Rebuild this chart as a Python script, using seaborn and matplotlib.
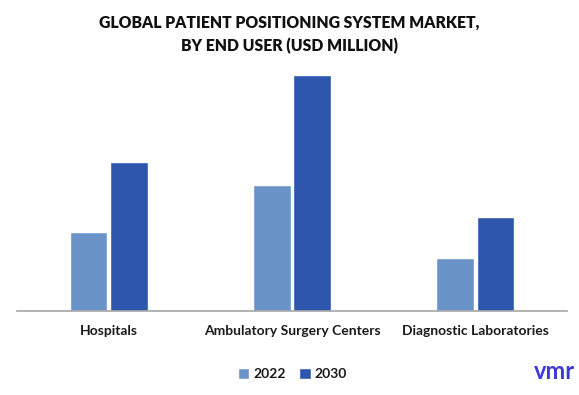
import pandas as pd
import matplotlib.pyplot as plt
import seaborn as sns

sns.set_theme(style="white")
plt.rcParams['font.family'] = ['Lato', 'DejaVu Sans']

# data (relative bar heights, USD million)
end_users = ['Hospitals', 'Ambulatory Surgery Centers', 'Diagnostic Laboratories']
years = ['2022', '2030']
values_2022 = [395, 630, 265]
values_2030 = [745, 1180, 470]
colors = ['#6a93c8', '#2e56ad']


def plot_market():
    df = pd.DataFrame({
        'End User': end_users * 2,
        'Year': [years[0]] * 3 + [years[1]] * 3,
        'Value': values_2022 + values_2030,
    })

    fig = plt.figure(figsize=(5.79, 3.95), dpi=100)
    ax = fig.add_axes([0.0294, 0.2127, 0.9496, 0.61])
    sns.barplot(data=df, x='End User', y='Value', hue='Year', palette=colors,
                width=0.44, gap=0.07, ax=ax, saturation=1, legend=True)

    ax.set_xlim(-0.5, 2.5)
    ax.set_ylim(0, 1205)
    ax.set_yticks([])
    ax.set_xlabel('')
    ax.set_ylabel('')
    for side in ['top', 'left', 'right']:
        ax.spines[side].set_visible(False)
    ax.spines['bottom'].set_color('#a6a6a6')
    ax.spines['bottom'].set_linewidth(1.2)
    ax.tick_params(axis='x', length=0, pad=10, labelsize=10, colors='#1a1a1a')
    for lbl in ax.get_xticklabels():
        lbl.set_fontweight('bold')

    fig.text(0.5, 0.912, 'GLOBAL PATIENT POSITIONING SYSTEM MARKET,\nBY END USER (USD MILLION)',
             ha='center', va='center', fontsize=11.3, fontweight='heavy',
             color='#111111', linespacing=1.55)

    ax.legend(loc='center', ncol=2, frameon=False, handlelength=0.8, handleheight=0.8,
              handletextpad=0.3, columnspacing=1.0, prop={'weight': 'bold', 'size': 10})
    leg = ax.get_legend()
    leg.set_bbox_to_anchor((0.505, 0.053), transform=fig.transFigure)
    for t in leg.get_texts():
        t.set_fontweight('bold')
        t.set_color('#1a1a1a')

    # watermark logo
    fig.text(0.958, 0.03, 'vmr', ha='center', va='bottom', fontsize=17,
             color='#3d3ad6', fontweight='bold')

    plt.savefig('out.png', dpi=100)


if __name__ == "__main__":
    plot_market()
